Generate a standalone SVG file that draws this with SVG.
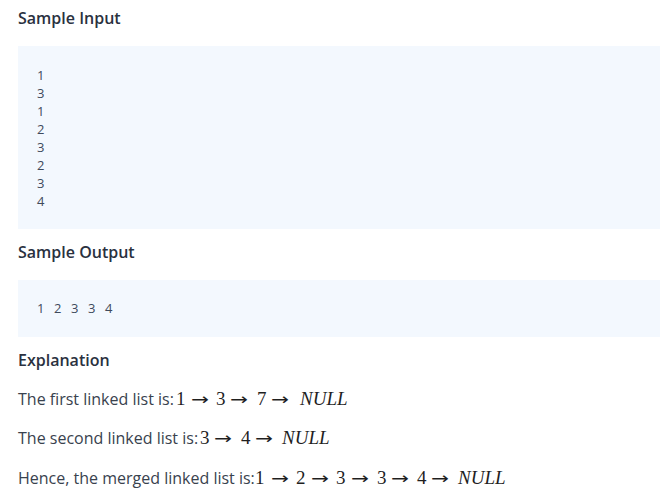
<svg xmlns="http://www.w3.org/2000/svg" width="660" height="503" viewBox="0 0 660 503">
<style>
.h{font-family:"Open Sans",sans-serif;font-size:16px;font-weight:600;fill:#2a3140}
.c{font-family:"Open Sans",sans-serif;font-size:13px;fill:#3f4a5c}
.t{font-family:"Open Sans",sans-serif;font-size:16px;fill:#39424e}
.m{font-family:"Liberation Serif",serif;font-size:19px;fill:#1f1f1f}
.i{font-style:italic}
.a{font-family:"DejaVu Sans",sans-serif;font-size:16px;fill:#1f1f1f}
.box{fill:#f3f8fe}
</style>
<rect width="660" height="503" fill="#fff"/>
<text class="h" x="18" y="24">Sample Input</text>
<rect class="box" x="18" y="46" width="642" height="183"/>
<g class="c">
<text x="37" y="80">1</text><text x="37" y="98">3</text><text x="37" y="116">1</text><text x="37" y="134">2</text>
<text x="37" y="152">3</text><text x="37" y="170">2</text><text x="37" y="188">3</text><text x="37" y="206">4</text>
</g>
<text class="h" x="18" y="258">Sample Output</text>
<rect class="box" x="18" y="280" width="642" height="57"/>
<text class="c" y="313"><tspan x="37">1</tspan><tspan x="54">2</tspan><tspan x="71">3</tspan><tspan x="88">3</tspan><tspan x="105">4</tspan></text>
<text class="h" x="18" y="366">Explanation</text>
<text class="t" x="18" y="405">The first linked list is:</text>
<text class="m" y="405"><tspan x="176">1</tspan><tspan x="216">3</tspan><tspan x="257">7</tspan><tspan class="i" x="300">NULL</tspan></text>
<text class="a" x="191" y="405" textLength="18" lengthAdjust="spacingAndGlyphs">→</text>
<text class="a" x="230" y="405" textLength="18" lengthAdjust="spacingAndGlyphs">→</text>
<text class="a" x="271" y="405" textLength="18" lengthAdjust="spacingAndGlyphs">→</text>
<text class="t" x="18" y="444">The second linked list is:</text>
<text class="m" y="444"><tspan x="200">3</tspan><tspan x="241">4</tspan><tspan class="i" x="282">NULL</tspan></text>
<text class="a" x="214" y="444" textLength="18" lengthAdjust="spacingAndGlyphs">→</text>
<text class="a" x="255" y="444" textLength="18" lengthAdjust="spacingAndGlyphs">→</text>
<text class="t" x="18" y="484">Hence, the merged linked list is:</text>
<text class="m" y="484"><tspan x="255">1</tspan><tspan x="296">2</tspan><tspan x="336">3</tspan><tspan x="377">3</tspan><tspan x="417">4</tspan><tspan class="i" x="458">NULL</tspan></text>
<text class="a" x="271" y="484" textLength="18" lengthAdjust="spacingAndGlyphs">→</text>
<text class="a" x="311" y="484" textLength="18" lengthAdjust="spacingAndGlyphs">→</text>
<text class="a" x="351" y="484" textLength="18" lengthAdjust="spacingAndGlyphs">→</text>
<text class="a" x="391" y="484" textLength="18" lengthAdjust="spacingAndGlyphs">→</text>
<text class="a" x="431" y="484" textLength="18" lengthAdjust="spacingAndGlyphs">→</text>
</svg>
